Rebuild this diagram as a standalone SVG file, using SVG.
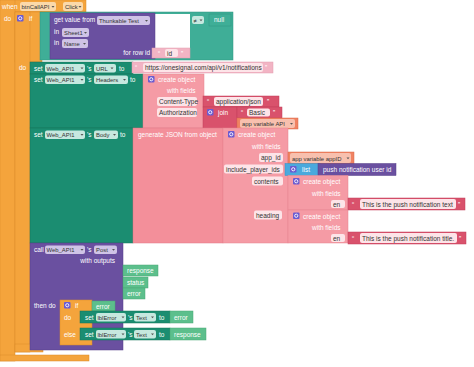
<svg xmlns="http://www.w3.org/2000/svg" width="474" height="367" viewBox="0 0 474 367">
<defs>
<style>
text{font-family:"Liberation Sans",Arial,sans-serif;font-size:6.5px;fill:#fff}
.d{fill:#333}
.s{font-size:5.9px}
.or{fill:#f4a43c;stroke:#d98a2a;stroke-width:0.5}
.tl{fill:#3fae97;stroke:#2f9480;stroke-width:0.5}
.st{fill:#1b8d71;stroke:#147559;stroke-width:0.5}
.pu{fill:#6a50a0;stroke:#553e88;stroke-width:0.5}
.gj{fill:#f38f9a;stroke:#e07a86;stroke-width:0.5}
.co{fill:#f59ba5;stroke:#e7848f;stroke-width:0.5}
.rd{fill:#d9526c;stroke:#c23e58;stroke-width:0.5}
.tp{fill:#f2b4c4;stroke:#e29fb0;stroke-width:0.5}
.av{fill:#f08262;stroke:#d96b4c;stroke-width:0.5}
.gr{fill:#5cbf8c;stroke:#48a876;stroke-width:0.5}
.lb{fill:#4aa9dd;stroke:#3592c6;stroke-width:0.5}
.p-or{fill:#fbd9aa}
.p-tl{fill:#c6e8df}
.p-pu{fill:#cfc3e6}
.p-pk{fill:#fde4e8}
.p-av{fill:#f8c0ae}
.gear{fill:#6b5bd0}
</style>
<g id="dd"><path d="M0,0 L3,0 L1.5,1.8 Z" fill="#555"/></g>
<g id="gearicon"><rect x="0" y="0" width="6.5" height="6.5" rx="1" class="gear"/><circle cx="3.25" cy="3.25" r="1.6" fill="none" stroke="#fff" stroke-width="0.9"/></g>
</defs>
<rect width="474" height="367" fill="#fff"/>

<g id="when-block">
<rect class="or" x="0" y="0" width="86" height="12"/>
<rect class="or" x="0" y="0" width="15" height="361"/>
<rect class="or" x="0" y="355" width="89" height="6"/>
<text x="2" y="9">when</text>
<rect class="p-or" x="20" y="2" width="36" height="9" rx="2"/>
<text class="d s" x="21.5" y="9">btnCallAPI</text><use href="#dd" x="51.5" y="6"/>
<rect class="p-or" x="63" y="2" width="20" height="9" rx="2"/>
<text class="d s" x="65" y="9">Click</text><use href="#dd" x="78.5" y="6"/>
<text x="4" y="21">do</text>
</g>

<g id="if-block">
<rect class="or" x="15" y="12" width="27" height="50"/>
<rect class="or" x="15" y="12" width="15" height="340"/>
<rect class="or" x="15" y="344" width="28" height="8"/>
<use href="#gearicon" x="17" y="15"/>
<text x="29" y="21">if</text>
<text x="19" y="70">do</text>
</g>

<g id="compare-block">
<rect class="tl" x="40" y="12" width="193" height="48"/>
<rect x="155" y="14" width="35" height="34" fill="#fff"/>
<rect class="p-tl" x="192" y="16" width="12" height="8" rx="2"/>
<text class="d s" x="193.5" y="22.5">≠</text><use href="#dd" x="199.5" y="19.5"/>
<rect class="tl" x="209" y="14" width="22" height="12" stroke="#7cc9b8"/>
<text x="214" y="22">null</text>
</g>

<g id="get-value-block">
<rect class="pu" x="50" y="13" width="105" height="46"/>
<text x="54" y="22">get value from</text>
<rect class="p-pu" x="97" y="16" width="53" height="9" rx="2"/>
<text class="d s" x="99" y="23">Thunkable Test</text><use href="#dd" x="145" y="20"/>
<text x="54" y="34">in</text>
<rect class="p-pu" x="62" y="28" width="27" height="9" rx="2"/>
<text class="d s" x="64" y="35">Sheet1</text><use href="#dd" x="84" y="32"/>
<text x="54" y="45">in</text>
<rect class="p-pu" x="62" y="39" width="26" height="9" rx="2"/>
<text class="d s" x="64" y="46">Name</text><use href="#dd" x="83" y="43"/>
<text x="150" y="55" text-anchor="end">for row id</text>
</g>

<g id="id-text">
<rect class="tp" x="152" y="48" width="38" height="10"/>
<text x="158" y="56">“</text>
<rect class="p-pk" x="165" y="49" width="13" height="8" rx="2"/>
<text class="d" x="167" y="55.5">id</text>
<text x="181" y="56">”</text>
</g>

<g id="set-url">
<rect class="st" x="30" y="62" width="103" height="12"/>
<text x="34" y="70.5">set</text>
<rect class="p-tl" x="45" y="64" width="40" height="8.5" rx="2"/>
<text class="d s" x="46.5" y="70.5">Web_API1</text><use href="#dd" x="80.5" y="67.5"/>
<text x="87" y="70.5">'s</text>
<rect class="p-tl" x="94" y="64" width="22" height="8.5" rx="2"/>
<text class="d s" x="96" y="70.5">URL</text><use href="#dd" x="110.5" y="67.5"/>
<text x="119" y="70.5">to</text>
</g>

<g id="url-text">
<rect class="tp" x="132" y="62" width="141" height="11"/>
<text x="135" y="70">“</text>
<rect class="p-pk" x="143" y="63" width="120" height="9" rx="2"/>
<text class="d" x="145" y="70">https://onesignal.com/api/v1/notifications</text>
<text x="265" y="70">”</text>
</g>

<g id="set-headers">
<rect class="st" x="30" y="74" width="113" height="54"/>
<text x="34" y="82">set</text>
<rect class="p-tl" x="45" y="75.5" width="40" height="8.5" rx="2"/>
<text class="d s" x="46.5" y="82">Web_API1</text><use href="#dd" x="80.5" y="79"/>
<text x="87" y="82">'s</text>
<rect class="p-tl" x="94" y="75.5" width="34" height="8.5" rx="2"/>
<text class="d s" x="96" y="82">Headers</text><use href="#dd" x="123" y="79"/>
<text x="130" y="82">to</text>
</g>

<g id="headers-object">
<rect class="co" x="143" y="74" width="61" height="54"/>
<use href="#gearicon" x="148" y="76"/>
<text x="158" y="82">create object</text>
<text x="167" y="93">with fields</text>
<rect class="p-pk" x="157" y="97" width="40" height="9" rx="2"/>
<text class="d" x="159" y="104">Content-Type</text>
<rect class="p-pk" x="157" y="108" width="40" height="9" rx="2"/>
<text class="d" x="159" y="115">Authorization</text>
</g>

<g id="appjson-text">
<rect class="rd" x="203" y="96" width="76" height="11"/>
<text x="207" y="104">“</text>
<rect class="p-pk" x="214" y="97" width="49" height="9" rx="2"/>
<text class="d" x="216" y="104">application/json</text>
<text x="267" y="104">”</text>
</g>

<g id="join-block">
<rect class="rd" x="203" y="107" width="34" height="22"/>
<use href="#gearicon" x="207" y="109"/>
<text x="218" y="115">join</text>
</g>

<g id="basic-text">
<rect class="rd" x="237" y="107" width="45" height="11"/>
<text x="241" y="115">“</text>
<rect class="p-pk" x="247" y="108.5" width="23" height="8" rx="2"/>
<text class="d" x="249" y="115">Basic</text>
<text x="273" y="115">”</text>
</g>

<g id="app-var-api">
<rect class="av" x="237" y="118" width="61" height="11"/>
<rect class="p-av" x="240" y="119" width="55" height="9" rx="2"/>
<text class="d s" x="242" y="126">app variable API</text><use href="#dd" x="290" y="123"/>
</g>

<g id="set-body">
<rect class="st" x="30" y="128" width="103" height="115"/>
<text x="34" y="137">set</text>
<rect class="p-tl" x="45" y="130.5" width="40" height="8.5" rx="2"/>
<text class="d s" x="46.5" y="137">Web_API1</text><use href="#dd" x="80.5" y="134"/>
<text x="87" y="137">'s</text>
<rect class="p-tl" x="94" y="130.5" width="24" height="8.5" rx="2"/>
<text class="d s" x="96" y="137">Body</text><use href="#dd" x="113" y="134"/>
<text x="120" y="137">to</text>
</g>

<g id="generate-json">
<rect class="gj" x="133" y="128" width="90" height="115"/>
<text x="138" y="137">generate JSON from object</text>
</g>

<g id="body-object">
<rect class="co" x="223" y="128" width="65" height="115"/>
<use href="#gearicon" x="228" y="131"/>
<text x="238" y="137">create object</text>
<text x="252" y="149">with fields</text>
<rect class="p-pk" x="259" y="153" width="24" height="9" rx="2"/>
<text class="d" x="261" y="160">app_id</text>
<rect class="p-pk" x="224" y="164.5" width="59" height="9" rx="2"/>
<text class="d" x="226" y="171.5">include_player_ids</text>
<rect class="p-pk" x="252" y="176.5" width="31" height="9" rx="2"/>
<text class="d" x="254" y="183.5">contents</text>
<rect class="p-pk" x="254" y="210.5" width="28" height="9" rx="2"/>
<text class="d" x="256" y="217.5">heading</text>
</g>

<g id="app-var-appid">
<rect class="av" x="288" y="152" width="66" height="12"/>
<rect class="p-av" x="290" y="153" width="61" height="10" rx="2"/>
<text class="d s" x="292" y="160.5">app variable appID</text><use href="#dd" x="346.5" y="157.5"/>
</g>

<g id="list-block">
<rect class="lb" x="285" y="163.5" width="35" height="12"/>
<use href="#gearicon" x="290" y="166"/>
<text x="302" y="172">list</text>
</g>

<g id="user-id">
<rect class="pu" x="318" y="163.5" width="78" height="12"/>
<text x="323" y="172">push notification user id</text>
</g>

<g id="contents-object">
<rect class="co" x="288" y="175.5" width="60" height="34.5"/>
<use href="#gearicon" x="293" y="178"/>
<text x="303" y="184">create object</text>
<text x="312" y="196">with fields</text>
<rect class="p-pk" x="331" y="200" width="14" height="8" rx="2"/>
<text class="d" x="333" y="206.5">en</text>
</g>

<g id="text-content">
<rect class="rd" x="348" y="198" width="117" height="12"/>
<text x="352" y="206.5">“</text>
<rect class="p-pk" x="360" y="199" width="96" height="10" rx="2"/>
<text class="d" x="362" y="206.5">This is the push notification text</text>
<text x="458" y="206.5">”</text>
</g>

<g id="heading-object">
<rect class="co" x="288" y="210" width="60" height="33"/>
<use href="#gearicon" x="293" y="212.5"/>
<text x="303" y="218.5">create object</text>
<text x="312" y="230">with fields</text>
<rect class="p-pk" x="331" y="234" width="14" height="8" rx="2"/>
<text class="d" x="333" y="240.5">en</text>
</g>

<g id="text-heading">
<rect class="rd" x="348" y="232" width="118" height="12"/>
<text x="352" y="240.5">“</text>
<rect class="p-pk" x="360" y="233" width="97" height="10" rx="2"/>
<text class="d" x="362" y="240.5">This is the push notification title.</text>
<text x="459" y="240.5">”</text>
</g>

<g id="call-post">
<rect class="pu" x="30" y="243" width="93" height="107"/>
<text x="34" y="252">call</text>
<rect class="p-pu" x="45" y="245.5" width="40" height="8.5" rx="2"/>
<text class="d s" x="46.5" y="252">Web_API1</text><use href="#dd" x="80.5" y="249"/>
<text x="87" y="252">'s</text>
<rect class="p-pu" x="94" y="245.5" width="23" height="8.5" rx="2"/>
<text class="d s" x="96" y="252">Post</text><use href="#dd" x="112" y="249"/>
<text x="115" y="263" text-anchor="end">with outputs</text>
<text x="34" y="308">then do</text>
</g>

<g id="out-response"><rect class="gr" x="123" y="265" width="35" height="11"/><text x="127" y="273">response</text></g>
<g id="out-status"><rect class="gr" x="123" y="277" width="25" height="11"/><text x="127" y="285">status</text></g>
<g id="out-error"><rect class="gr" x="123" y="288" width="22" height="11"/><text x="127" y="296">error</text></g>

<g id="inner-if">
<rect class="or" x="60" y="300" width="32" height="45"/>
<use href="#gearicon" x="64" y="302"/>
<text x="75" y="308">if</text>
<text x="64" y="320">do</text>
<text x="64" y="337">else</text>
</g>

<g id="cond-error"><rect class="gr" x="92" y="301" width="23" height="10"/><text x="96" y="308.5">error</text></g>

<g id="set-lbl-error">
<rect class="st" x="80" y="311" width="90" height="12"/>
<text x="85" y="319.5">set</text>
<rect class="p-tl" x="96" y="313" width="30" height="8.5" rx="2"/>
<text class="d s" x="97.5" y="319.5">lblError</text><use href="#dd" x="121.5" y="316.5"/>
<text x="128" y="319.5">'s</text>
<rect class="p-tl" x="134" y="313" width="22" height="8.5" rx="2"/>
<text class="d s" x="136" y="319.5">Text</text><use href="#dd" x="151" y="316.5"/>
<text x="159" y="319.5">to</text>
</g>
<g id="val-error"><rect class="gr" x="170" y="311" width="23" height="12"/><text x="174" y="319.5">error</text></g>

<g id="set-lbl-response">
<rect class="st" x="80" y="328" width="90" height="12"/>
<text x="85" y="336.5">set</text>
<rect class="p-tl" x="96" y="330" width="30" height="8.5" rx="2"/>
<text class="d s" x="97.5" y="336.5">lblError</text><use href="#dd" x="121.5" y="333.5"/>
<text x="128" y="336.5">'s</text>
<rect class="p-tl" x="134" y="330" width="22" height="8.5" rx="2"/>
<text class="d s" x="136" y="336.5">Text</text><use href="#dd" x="151" y="333.5"/>
<text x="159" y="336.5">to</text>
</g>
<g id="val-response"><rect class="gr" x="170" y="328" width="36" height="12"/><text x="174" y="336.5">response</text></g>

<g id="connectors"></g>
</svg>
